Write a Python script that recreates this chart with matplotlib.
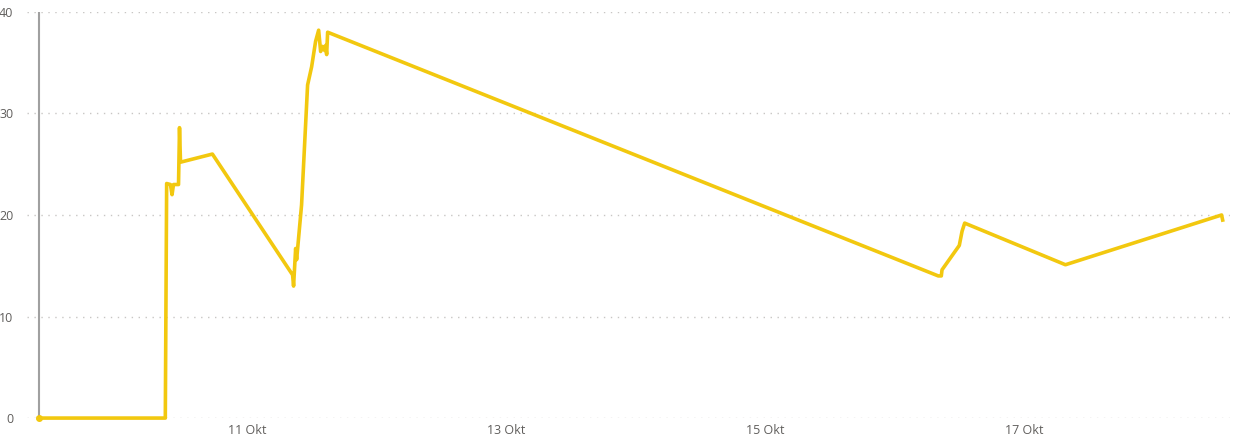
import numpy as np
import pandas as pd
import matplotlib
matplotlib.use('Agg')
import matplotlib.pyplot as plt
import matplotlib.dates as mdates

# readings (timestamp, value)
times = [
    '2023-10-09 09:15', '2023-10-10 08:45', '2023-10-10 09:00', '2023-10-10 09:42',
    '2023-10-10 10:00', '2023-10-10 10:16', '2023-10-10 11:12', '2023-10-10 11:23',
    '2023-10-10 11:34', '2023-10-10 17:29', '2023-10-11 08:21', '2023-10-11 08:32',
    '2023-10-11 08:55', '2023-10-11 09:06', '2023-10-11 10:01', '2023-10-11 11:08',
    '2023-10-11 11:53', '2023-10-11 12:37', '2023-10-11 13:11', '2023-10-11 13:33',
    '2023-10-11 13:55', '2023-10-11 14:18', '2023-10-11 14:29', '2023-10-11 14:40',
    '2023-10-11 14:51', '2023-10-16 08:04', '2023-10-16 08:38', '2023-10-16 08:46',
    '2023-10-16 11:58', '2023-10-16 12:29', '2023-10-16 12:58', '2023-10-17 07:39',
    '2023-10-18 12:36', '2023-10-18 12:48',
]
values = [
    0.0, 0.0, 23.1, 23.0,
    22.0, 23.0, 23.0, 28.6,
    25.2, 26.0, 14.1, 13.0,
    16.7, 15.6, 21.0, 32.8,
    34.6, 37.1, 38.2, 36.1,
    36.6, 36.2, 36.7, 35.8,
    38.0, 14.0, 14.0, 14.6,
    17.0, 18.4, 19.2, 15.1,
    20.0, 19.5,
]
tick_dates = ['2023-10-11', '2023-10-13', '2023-10-15', '2023-10-17']
tick_labels = ['11 Okt', '13 Okt', '15 Okt', '17 Okt']
y_ticks = [0, 10, 20, 30, 40]

LINE_COLOR = '#F2C80F'
TEXT_COLOR = '#605E5C'
GRID_COLOR = '#C8C6C4'

plt.rcParams['font.family'] = ['Open Sans', 'DejaVu Sans']

t = pd.to_datetime(times)
t_ticks = pd.to_datetime(tick_dates)

fig = plt.figure(figsize=(12.42, 4.41), dpi=100)
ax = fig.add_axes([0.022, 0.052, 0.968, 0.921])

# y grid (dotted)
for yv in y_ticks:
    ax.axhline(yv, color=GRID_COLOR, linestyle=(0, (1, 4)), linewidth=1.0, zorder=1)

# vertical line at the first reading
ax.axvline(t[0], color='#A0A0A0', linewidth=1.5, zorder=2)

ax.plot(t, values, color=LINE_COLOR, linewidth=2.6, solid_joinstyle='round',
        clip_on=False, zorder=3)
ax.plot(t[:1], values[:1], 'o', color=LINE_COLOR, markersize=4, clip_on=False, zorder=4)

ax.set_ylim(0, 40)
ax.set_xlim(pd.Timestamp('2023-10-09 07:10'), pd.Timestamp('2023-10-18 14:05'))
ax.set_yticks(y_ticks)
ax.set_xticks(t_ticks)
ax.set_xticklabels(tick_labels)

for s in ax.spines.values():
    s.set_visible(False)
ax.tick_params(axis='both', length=0, labelsize=9, colors=TEXT_COLOR)
ax.tick_params(axis='y', pad=10)
ax.tick_params(axis='x', pad=4)
ax.set_facecolor('white')

fig.savefig('out.png', dpi=100)
